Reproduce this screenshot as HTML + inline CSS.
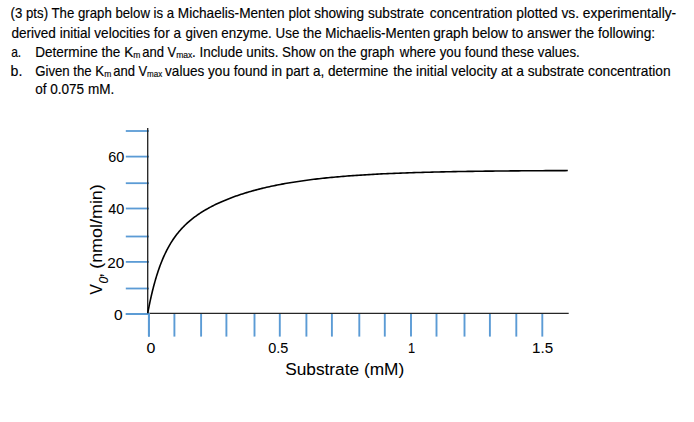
<!DOCTYPE html>
<html><head><meta charset="utf-8"><style>
html,body{margin:0;padding:0;background:#fff;width:694px;height:422px;overflow:hidden}
svg{position:absolute;left:0;top:0;display:block}
text{font-family:"Liberation Sans",sans-serif;fill:#000;stroke:#000;stroke-width:0.15px}
.lab text,text.lab{stroke-width:0.05px}
</style></head><body>
<svg width="694" height="422" viewBox="0 0 694 422">
<text id="l1a" x="10.60" y="17.80" font-size="13.9" textLength="163.60" lengthAdjust="spacingAndGlyphs">(3 pts) The graph below is a</text>
<text id="l1b" x="177.80" y="17.80" font-size="13.9" textLength="246.21" lengthAdjust="spacingAndGlyphs">Michaelis-Menten plot showing substrate</text>
<text id="l1c" x="429.80" y="17.80" font-size="13.9" textLength="246.40" lengthAdjust="spacingAndGlyphs">concentration plotted vs. experimentally-</text>
<text id="l2a" x="11.40" y="37.80" font-size="13.9" textLength="169.60" lengthAdjust="spacingAndGlyphs">derived initial velocities for a</text>
<text id="l2b" x="185.60" y="37.80" font-size="13.9" textLength="244.60" lengthAdjust="spacingAndGlyphs">given enzyme. Use the Michaelis-Menten</text>
<text id="l2c" x="433.20" y="37.80" font-size="13.9" textLength="222.00" lengthAdjust="spacingAndGlyphs">graph below to answer the following:</text>
<text id="a" x="11.17" y="56.90" font-size="13.9" textLength="10.04" lengthAdjust="spacingAndGlyphs">a.</text>
<text id="l3a" x="35.19" y="56.90" font-size="13.9" textLength="98.02" lengthAdjust="spacingAndGlyphs">Determine the K</text>
<text id="l3m" x="133.17" y="57.90" font-size="9.6" textLength="7.09" lengthAdjust="spacingAndGlyphs">m</text>
<text id="l3b" x="142.17" y="56.90" font-size="13.9" textLength="34.05" lengthAdjust="spacingAndGlyphs">and V</text>
<text id="l3x" x="176.14" y="57.90" font-size="9.6" textLength="16.13" lengthAdjust="spacingAndGlyphs">max</text>
<text id="l3c" x="192.06" y="56.90" font-size="13.9" textLength="202.37" lengthAdjust="spacingAndGlyphs">. Include units. Show on the graph</text>
<text id="l3d" x="399.80" y="56.90" font-size="13.9" textLength="180.01" lengthAdjust="spacingAndGlyphs">where you found these values.</text>
<text id="b" x="10.53" y="75.90" font-size="13.9" textLength="11.81" lengthAdjust="spacingAndGlyphs">b.</text>
<text id="l4a" x="35.18" y="75.90" font-size="13.9" textLength="69.02" lengthAdjust="spacingAndGlyphs">Given the K</text>
<text id="l4m" x="104.17" y="76.90" font-size="9.6" textLength="7.09" lengthAdjust="spacingAndGlyphs">m</text>
<text id="l4b" x="113.20" y="75.90" font-size="13.9" textLength="34.02" lengthAdjust="spacingAndGlyphs">and V</text>
<text id="l4x" x="147.09" y="76.90" font-size="9.6" textLength="15.20" lengthAdjust="spacingAndGlyphs">max</text>
<text id="l4c" x="165.09" y="75.90" font-size="13.9" textLength="223.23" lengthAdjust="spacingAndGlyphs">values you found in part a, determine</text>
<text id="l4d" x="393.20" y="75.90" font-size="13.9" textLength="277.40" lengthAdjust="spacingAndGlyphs">the initial velocity at a substrate concentration</text>
<text id="l5" x="35.19" y="94.00" font-size="13.9" textLength="79.02" lengthAdjust="spacingAndGlyphs">of 0.075 mM.</text>
<text id="y60" class="lab" x="108.18" y="161.90" font-size="14.8" textLength="16.02" lengthAdjust="spacingAndGlyphs">60</text>
<text id="y40" class="lab" x="108.17" y="214.00" font-size="14.8" textLength="16.02" lengthAdjust="spacingAndGlyphs">40</text>
<text id="y20" class="lab" x="107.20" y="267.80" font-size="14.8" textLength="17.00" lengthAdjust="spacingAndGlyphs">20</text>
<text id="y0" class="lab" x="114.08" y="320.00" font-size="14.8" textLength="8.62" lengthAdjust="spacingAndGlyphs">0</text>
<text id="x0" class="lab" x="146.52" y="352.90" font-size="14.8" textLength="8.86" lengthAdjust="spacingAndGlyphs">0</text>
<text id="x05" class="lab" x="268.21" y="352.90" font-size="14.8" textLength="20.03" lengthAdjust="spacingAndGlyphs">0.5</text>
<text id="x1" class="lab" x="408.07" y="352.80" font-size="14.8" textLength="7.14" lengthAdjust="spacingAndGlyphs">1</text>
<text id="x15" class="lab" x="532.13" y="352.90" font-size="14.8" textLength="21.10" lengthAdjust="spacingAndGlyphs">1.5</text>
<text id="sub" class="lab" x="285.18" y="375.00" font-size="17" textLength="119.04" lengthAdjust="spacingAndGlyphs">Substrate (mM)</text>
<line x1="125.8" y1="131.00" x2="149" y2="131.00" stroke="#5B9BD5" stroke-width="1.8"/>
<line x1="125.8" y1="156.60" x2="149" y2="156.60" stroke="#5B9BD5" stroke-width="1.8"/>
<line x1="125.8" y1="183.20" x2="149" y2="183.20" stroke="#5B9BD5" stroke-width="1.8"/>
<line x1="125.8" y1="208.50" x2="149" y2="208.50" stroke="#5B9BD5" stroke-width="1.8"/>
<line x1="125.8" y1="236.50" x2="149" y2="236.50" stroke="#5B9BD5" stroke-width="1.8"/>
<line x1="125.8" y1="261.90" x2="149" y2="261.90" stroke="#5B9BD5" stroke-width="1.8"/>
<line x1="125.8" y1="288.50" x2="149" y2="288.50" stroke="#5B9BD5" stroke-width="1.8"/>
<line x1="125.8" y1="314.00" x2="149" y2="314.00" stroke="#5B9BD5" stroke-width="1.8"/>
<line x1="148.90" y1="313" x2="148.90" y2="336.6" stroke="#5B9BD5" stroke-width="1.9"/>
<line x1="174.40" y1="313" x2="174.40" y2="336.6" stroke="#5B9BD5" stroke-width="1.9"/>
<line x1="201.10" y1="313" x2="201.10" y2="336.6" stroke="#5B9BD5" stroke-width="1.9"/>
<line x1="226.40" y1="313" x2="226.40" y2="336.6" stroke="#5B9BD5" stroke-width="1.9"/>
<line x1="254.50" y1="313" x2="254.50" y2="336.6" stroke="#5B9BD5" stroke-width="1.9"/>
<line x1="279.80" y1="313" x2="279.80" y2="336.6" stroke="#5B9BD5" stroke-width="1.9"/>
<line x1="306.40" y1="313" x2="306.40" y2="336.6" stroke="#5B9BD5" stroke-width="1.9"/>
<line x1="331.90" y1="313" x2="331.90" y2="336.6" stroke="#5B9BD5" stroke-width="1.9"/>
<line x1="359.30" y1="313" x2="359.30" y2="336.6" stroke="#5B9BD5" stroke-width="1.9"/>
<line x1="384.80" y1="313" x2="384.80" y2="336.6" stroke="#5B9BD5" stroke-width="1.9"/>
<line x1="411.00" y1="313" x2="411.00" y2="336.6" stroke="#5B9BD5" stroke-width="1.9"/>
<line x1="436.50" y1="313" x2="436.50" y2="336.6" stroke="#5B9BD5" stroke-width="1.9"/>
<line x1="464.50" y1="313" x2="464.50" y2="336.6" stroke="#5B9BD5" stroke-width="1.9"/>
<line x1="489.90" y1="313" x2="489.90" y2="336.6" stroke="#5B9BD5" stroke-width="1.9"/>
<line x1="516.30" y1="313" x2="516.30" y2="336.6" stroke="#5B9BD5" stroke-width="1.9"/>
<line x1="542.30" y1="313" x2="542.30" y2="336.6" stroke="#5B9BD5" stroke-width="1.9"/>
<line x1="147.7" y1="128" x2="147.7" y2="313.9" stroke="#262626" stroke-width="1.35"/>
<line x1="147.2" y1="313.4" x2="568.7" y2="313.4" stroke="#262626" stroke-width="1.35"/>
<line x1="125.8" y1="314" x2="149.6" y2="314" stroke="#5B9BD5" stroke-width="1.8"/>
<line x1="148.9" y1="313" x2="148.9" y2="336.6" stroke="#5B9BD5" stroke-width="1.9"/>
<polyline points="147.70,313.30 147.70,313.27 147.72,313.20 147.74,313.07 147.78,312.90 147.82,312.67 147.87,312.40 147.93,312.07 148.00,311.70 148.08,311.28 148.17,310.81 148.27,310.30 148.38,309.74 148.49,309.14 148.62,308.49 148.76,307.80 148.90,307.07 149.06,306.30 149.22,305.49 149.40,304.64 149.58,303.75 149.77,302.83 149.97,301.88 150.19,300.89 150.41,299.87 150.64,298.83 150.88,297.75 151.13,296.65 151.38,295.52 151.65,294.37 151.93,293.20 152.22,292.01 152.51,290.79 152.82,289.57 153.13,288.32 153.46,287.06 153.79,285.79 154.13,284.51 154.49,283.21 154.85,281.91 155.22,280.60 155.60,279.29 155.99,277.97 156.39,276.64 156.80,275.32 157.22,273.99 157.64,272.67 158.08,271.34 158.53,270.02 158.98,268.71 159.45,267.39 159.92,266.09 160.41,264.79 160.90,263.49 161.40,262.21 161.91,260.93 162.44,259.66 162.97,258.41 163.51,257.16 164.06,255.93 164.62,254.71 165.19,253.50 165.76,252.30 166.35,251.11 166.95,249.94 167.55,248.78 168.17,247.64 168.79,246.51 169.43,245.40 170.07,244.30 170.73,243.21 171.39,242.14 172.06,241.08 172.74,240.04 173.43,239.01 174.13,238.00 174.84,237.00 175.56,236.02 176.29,235.05 177.03,234.09 177.77,233.15 178.53,232.23 179.30,231.31 180.07,230.41 180.86,229.53 181.65,228.65 182.45,227.79 183.27,226.95 184.09,226.11 184.92,225.29 185.76,224.48 186.61,223.68 187.47,222.89 188.34,222.11 189.22,221.35 190.11,220.59 191.01,219.85 191.91,219.12 192.83,218.39 193.76,217.68 194.69,216.97 195.64,216.28 196.59,215.59 197.55,214.92 198.52,214.25 199.51,213.59 200.50,212.94 201.50,212.29 202.51,211.66 203.53,211.03 204.56,210.41 205.60,209.79 206.64,209.19 207.70,208.59 208.77,208.00 209.84,207.41 210.93,206.84 212.03,206.26 213.13,205.70 214.24,205.14 215.37,204.59 216.50,204.04 217.64,203.50 218.79,202.97 219.95,202.44 221.12,201.92 222.30,201.40 223.49,200.89 224.69,200.39 225.90,199.89 227.11,199.39 228.34,198.90 229.58,198.42 230.82,197.94 232.08,197.47 233.34,197.01 234.61,196.54 235.90,196.09 237.19,195.64 238.49,195.19 239.80,194.75 241.12,194.32 242.45,193.89 243.79,193.46 245.14,193.04 246.50,192.63 247.87,192.22 249.24,191.81 250.63,191.41 252.02,191.02 253.43,190.63 254.84,190.24 256.27,189.86 257.70,189.49 259.14,189.12 260.59,188.75 262.06,188.39 263.53,188.04 265.01,187.69 266.50,187.34 268.00,187.00 269.50,186.67 271.02,186.34 272.55,186.01 274.09,185.69 275.63,185.37 277.19,185.06 278.75,184.75 280.33,184.45 281.91,184.15 283.50,183.86 285.10,183.57 286.72,183.28 288.34,183.00 289.97,182.73 291.61,182.46 293.26,182.19 294.92,181.93 296.58,181.67 298.26,181.42 299.95,181.17 301.65,180.92 303.35,180.68 305.07,180.44 306.79,180.21 308.53,179.98 310.27,179.76 312.02,179.54 313.78,179.32 315.55,179.11 317.34,178.90 319.13,178.69 320.93,178.49 322.74,178.30 324.55,178.10 326.38,177.91 328.22,177.73 330.07,177.54 331.92,177.37 333.79,177.19 335.66,177.02 337.55,176.85 339.44,176.69 341.34,176.52 343.26,176.37 345.18,176.21 347.11,176.06 349.05,175.91 351.00,175.76 352.96,175.62 354.93,175.48 356.91,175.35 358.89,175.21 360.89,175.08 362.90,174.95 364.91,174.83 366.94,174.71 368.97,174.59 371.02,174.47 373.07,174.36 375.13,174.24 377.21,174.13 379.29,174.03 381.38,173.92 383.48,173.82 385.59,173.72 387.71,173.63 389.84,173.53 391.98,173.44 394.12,173.35 396.28,173.26 398.45,173.18 400.62,173.09 402.81,173.01 405.00,172.93 407.21,172.85 409.42,172.78 411.64,172.70 413.87,172.63 416.11,172.56 418.37,172.49 420.63,172.43 422.90,172.36 425.17,172.30 427.46,172.24 429.76,172.18 432.07,172.12 434.38,172.06 436.71,172.01 439.05,171.95 441.39,171.90 443.75,171.85 446.11,171.80 448.48,171.75 450.86,171.71 453.26,171.66 455.66,171.62 458.07,171.57 460.49,171.53 462.92,171.49 465.36,171.45 467.80,171.41 470.26,171.38 472.73,171.34 475.21,171.30 477.69,171.27 480.19,171.24 482.69,171.21 485.20,171.17 487.73,171.14 490.26,171.11 492.80,171.09 495.35,171.06 497.92,171.03 500.49,171.01 503.07,170.98 505.66,170.96 508.25,170.93 510.86,170.91 513.48,170.89 516.11,170.87 518.74,170.84 521.39,170.82 524.04,170.80 526.71,170.79 529.38,170.77 532.06,170.75 534.76,170.73 537.46,170.72 540.17,170.70 542.89,170.68 545.62,170.67 548.36,170.65 551.11,170.64 553.87,170.63 556.64,170.61 559.41,170.60 562.20,170.59 564.99,170.58 567.80,170.56" fill="none" stroke="#000" stroke-width="1.6" stroke-linejoin="round"/>
<g transform="translate(102.1,294.4) rotate(-90)" class="lab"><text x="0" y="0" font-size="17" textLength="10.2" lengthAdjust="spacingAndGlyphs">V</text><text x="10.8" y="6.0" font-size="12.2" font-style="italic">0</text><text x="16.6" y="0" font-size="17">,</text><text x="25.6" y="0" font-size="17" textLength="84.6" lengthAdjust="spacingAndGlyphs">(nmol/min)</text></g>
</svg>
</body></html>
